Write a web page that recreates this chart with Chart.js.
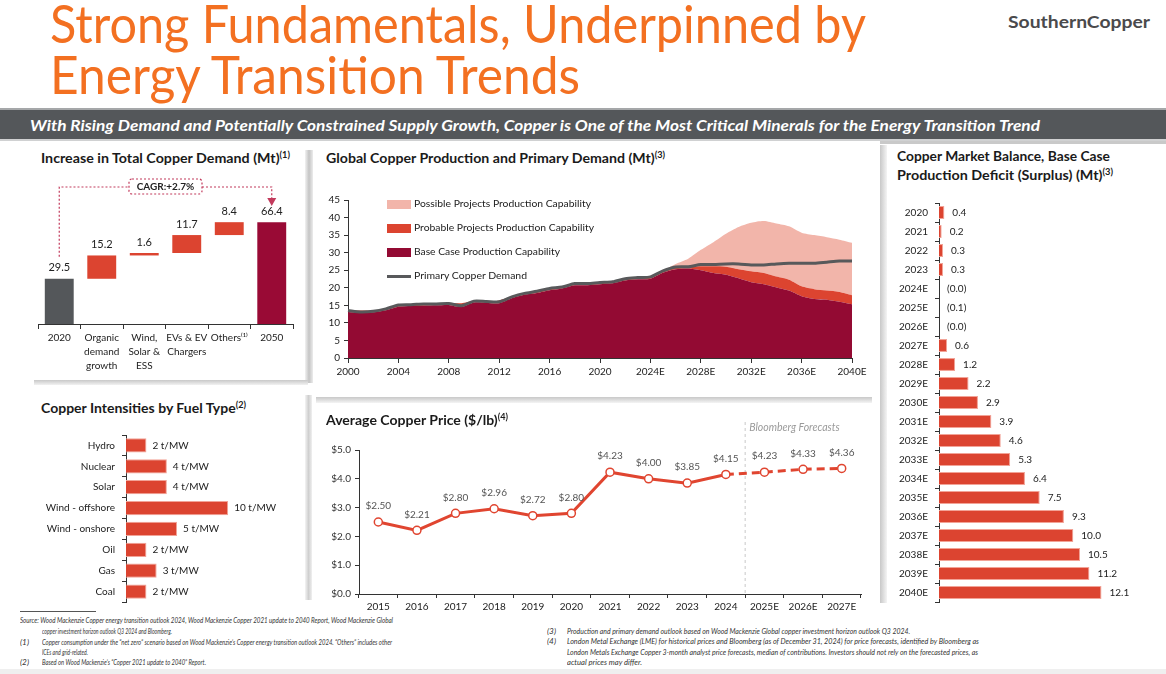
<!DOCTYPE html>
<html><head><meta charset="utf-8">
<script src="https://cdn.jsdelivr.net/npm/chart.js@4.4.1/dist/chart.umd.min.js"></script>
<style>
html,body{margin:0;padding:0;background:#fff;}
body{width:1166px;height:674px;position:relative;overflow:hidden;font-family:Lato,'Liberation Sans',sans-serif;}
.t{position:absolute;white-space:nowrap;transform-origin:0 50%;}
canvas{position:absolute;}
.sh{position:absolute;}
sup{font-size:65%;vertical-align:0.55em;line-height:0;}
</style></head><body>
<div class="sh" style="left:0;top:108px;width:1166px;height:2px;background:#A5A7A9"></div>
<div class="sh" style="left:0;top:110px;width:1166px;height:29px;background:#54575A"></div>
<div class="sh" style="left:0;top:139px;width:1166px;height:2px;background:#D0D1D2"></div>
<!-- panel shadows -->
<div class="sh" style="left:305px;top:150px;width:8px;height:233px;background:linear-gradient(to right,#f2f2f2,#c4c4c4 50%,#ececec)"></div>
<div class="sh" style="left:34px;top:380px;width:274px;height:5px;background:linear-gradient(to bottom,#c8c8c8,#f2f2f2)"></div>
<div class="sh" style="left:305px;top:395px;width:7px;height:205px;background:linear-gradient(to right,#f4f4f4,#cfcfcf 50%,#f0f0f0)"></div>
<div class="sh" style="left:316px;top:397px;width:556px;height:6px;background:linear-gradient(to bottom,#c8c8c8,#f4f4f4)"></div>
<div class="sh" style="left:880px;top:141px;width:286px;height:3px;background:#c9c9c9"></div>
<div class="sh" style="left:880px;top:145px;width:7px;height:458px;background:linear-gradient(to right,#c8c8c8,#f4f4f4)"></div>
<div class="sh" style="left:20px;top:611px;width:76px;height:1px;background:#555"></div>
<div class="sh" style="left:0;top:669px;width:1166px;height:5px;background:#EFEFEF"></div>

<canvas id="c1" width="275" height="210" style="left:30px;top:170px"></canvas>
<canvas id="c2" width="560" height="190" style="left:312px;top:190px"></canvas>
<canvas id="c3" width="280" height="178" style="left:30px;top:430px"></canvas>
<canvas id="c4" width="560" height="197" style="left:312px;top:418px"></canvas>
<canvas id="c5" width="286" height="415" style="left:880px;top:195px"></canvas>

<script>
// ---------------- DATA ----------------
const demandCategories = ['2020', ['Organic','demand','growth'], ['Wind,','Solar &','ESS'], ['EVs & EV','Chargers'], 'Others⁽¹⁾', '2050'];
const demandValues = [29.5, 15.2, 1.6, 11.7, 8.4, 66.4];

const productionYears = ['2000','2001','2002','2003','2004','2005','2006','2007','2008','2009',
  '2010','2011','2012','2013','2014','2015','2016','2017','2018','2019',
  '2020','2021','2022','2023','2024E','2025E','2026E','2027E','2028E','2029E',
  '2030E','2031E','2032E','2033E','2034E','2035E','2036E','2037E','2038E','2039E','2040E'];
const baseCaseCapability = [13.1,12.8,13.0,13.6,14.6,14.8,14.9,15.0,15.1,14.5,
  15.8,15.7,15.6,17.0,18.0,18.5,19.3,19.8,20.7,20.7,
  21.0,21.3,22.1,22.4,22.6,24.3,25.3,25.5,25.0,24.2,
  23.7,22.7,21.6,21.0,20.1,19.2,17.6,16.8,16.6,16.0,15.3];
const withProbableCapability = [13.5,13.5,13.5,13.9,15.0,15.1,15.3,15.3,15.6,15.6,
  16.2,16.1,16.4,17.5,18.4,18.9,19.9,20.2,21.1,21.1,
  21.4,21.6,22.5,22.8,22.9,24.7,25.8,26.0,26.1,26.1,
  26.0,25.3,24.7,24.2,23.2,22.3,20.4,19.6,19.2,18.8,17.9];
const withPossibleCapability = [13.5,13.5,13.5,13.9,15.0,15.1,15.3,15.3,15.6,15.6,
  16.2,16.1,16.4,17.5,18.4,18.9,19.9,20.2,21.1,21.1,
  21.4,21.6,22.5,22.8,23.0,24.9,26.8,28.3,30.8,33.0,
  35.4,37.3,38.5,39.0,38.3,37.5,35.7,35.0,34.4,33.7,32.8];
const primaryDemand = [13.5,13.1,13.3,14.0,15.1,15.2,15.4,15.4,15.5,14.9,
  16.2,16.1,16.0,17.4,18.4,19.0,19.8,20.2,21.2,21.2,
  21.5,21.7,22.6,22.9,23.1,24.8,25.9,26.0,26.6,26.6,
  26.8,26.8,26.5,26.5,26.8,27.0,27.0,27.0,27.3,27.6,27.6];

const fuelTypes = ['Hydro','Nuclear','Solar','Wind - offshore','Wind - onshore','Oil','Gas','Coal'];
const intensityValues = [2, 4, 4, 10, 5, 2, 3, 2];

const priceYears = ['2015','2016','2017','2018','2019','2020','2021','2022','2023','2024','2025E','2026E','2027E'];
const priceValues = [2.50, 2.21, 2.80, 2.96, 2.72, 2.80, 4.23, 4.00, 3.85, 4.15, 4.23, 4.33, 4.36];
const priceYTicks = [0, 1, 2, 3, 4, 5];

const balanceYears = ['2020','2021','2022','2023','2024E','2025E','2026E','2027E','2028E','2029E','2030E',
  '2031E','2032E','2033E','2034E','2035E','2036E','2037E','2038E','2039E','2040E'];
const balanceValues = [0.4, 0.2, 0.3, 0.3, -0.0, -0.1, -0.0, 0.6, 1.2, 2.2, 2.9, 3.9, 4.6, 5.3, 6.4, 7.5, 9.3, 10.0, 10.5, 11.2, 12.1];

// ---------------- TEXT ----------------
function addText(html, x, yc, size, w, style){
  const d = document.createElement('div');
  d.className = 't'; d.innerHTML = html;
  const lh = size*1.25;
  d.style.left = x+'px'; d.style.fontSize = size+'px'; d.style.lineHeight = lh+'px';
  d.style.top = (yc - lh/2)+'px';
  Object.assign(d.style, style||{});
  document.body.appendChild(d);
  if (w){ const a = d.getBoundingClientRect().width; d.style.transform = 'scaleX('+(w/a)+')'; }
  return d;
}
const ORANGE = '#F37021';
addText('Strong Fundamentals, Underpinned by', 50, 23, 52, 816, {color:ORANGE});
addText('Energy Transition Trends', 50, 74, 52, 530, {color:ORANGE});
addText('SouthernCopper', 1008, 22, 17, 142, {color:'#4A4A4C', fontWeight:'700'});
addText('With Rising Demand and Potentially Constrained Supply Growth, Copper is One of the Most Critical Minerals for the Energy Transition Trend', 30, 125, 15, 1010, {color:'#fff', fontWeight:'700', fontStyle:'italic'});

const TB = {color:'#1a1a1a', fontWeight:'700'};
addText('Increase in Total Copper Demand (Mt)<sup>(1)</sup>', 41, 158, 13, 249, TB);
addText('Global Copper Production and Primary Demand (Mt)<sup>(3)</sup>', 326, 158, 13, 339, TB);
addText('Copper Intensities by Fuel Type<sup>(2)</sup>', 41, 408, 13, 205, TB);
addText('Average Copper Price ($/lb)<sup>(4)</sup>', 326, 420, 13, 182, TB);
addText('Copper Market Balance, Base Case', 897, 156, 13, 213, TB);
addText('Production Deficit (Surplus) (Mt)<sup>(3)</sup>', 897, 175, 13, 216, TB);

// production legend
const legendItems = [
  ['Possible Projects Production Capability', '#F2B5AA', 177, 'rect'],
  ['Probable Projects Production Capability', '#DC4430', 180, 'rect'],
  ['Base Case Production Capability', '#930A33', 146, 'rect'],
  ['Primary Copper Demand', '#58595B', 113, 'line']
];
legendItems.forEach((it, i) => {
  const y = 204 + i*24;
  const s = document.createElement('div'); s.className = 'sh';
  const h = it[3]==='line' ? 3 : 9;
  s.style.cssText = `left:387px;top:${y-h/2}px;width:24px;height:${h}px;background:${it[1]}`;
  document.body.appendChild(s);
  addText(it[0], 414, y, 9, it[2], {color:'#222'});
});

// footnotes
const FN = {color:'#333', fontStyle:'italic'};
const FS = 8.2;
addText('Source: Wood Mackenzie Copper energy transition outlook 2024, Wood Mackenzie Copper 2021 update to 2040 Report, Wood Mackenzie Global', 20, 620, FS, 373, FN);
addText('copper investment horizon outlook Q3 2024 and Bloomberg.', 42, 631, FS, 130, FN);
addText('(1)', 20, 642, FS, 9, FN);
addText('Copper consumption under the “net zero” scenario based on Wood Mackenzie’s Copper energy transition outlook 2024. “Others” includes other', 42, 642, FS, 350, FN);
addText('ICEs and grid-related.', 42, 652, FS, 46, FN);
addText('(2)', 20, 662, FS, 9, FN);
addText('Based on Wood Mackenzie’s “Copper 2021 update to 2040” Report.', 42, 662, FS, 164, FN);
addText('(3)', 547, 631, FS, 9, FN);
addText('Production and primary demand outlook based on Wood Mackenzie Global copper investment horizon outlook Q3 2024.', 567, 631, FS, 343, FN);
addText('(4)', 547, 641, FS, 9, FN);
addText('London Metal Exchange (LME) for historical prices and Bloomberg (as of December 31, 2024) for price forecasts, identified by Bloomberg as', 567, 641, FS, 412, FN);
addText('London Metals Exchange Copper 3-month analyst price forecasts, median of contributions. Investors should not rely on the forecasted prices, as', 567, 652, FS, 411, FN);
addText('actual prices may differ.', 567, 662, FS, 75, FN);

// ---------------- CHARTS ----------------
Chart.defaults.font.family = "Lato, 'Liberation Sans', sans-serif";
Chart.defaults.color = '#222';
Chart.defaults.animation = false;
const FONT = "Lato, 'Liberation Sans', sans-serif";
const RED = '#DC4430';
const AX = '#333';
const noPlug = {legend:{display:false}, tooltip:{enabled:false}};
const fixV = w => s => { s.width = w; s.paddingTop = 0; s.paddingBottom = 0; };

// Chart 1 : waterfall
let running = 0;
const floating = demandValues.map((v, i) => {
  if (i === 0) { running = v; return [0, v]; }
  if (i === demandValues.length - 1) return [0, v];
  const r = [running, running + v]; running += v; return r;
});
const waterfallLabels = {
  id: 'wfl',
  afterDatasetsDraw(chart){
    const ctx = chart.ctx, meta = chart.getDatasetMeta(0), ys = chart.scales.y, xs = chart.scales.x;
    ctx.save();
    ctx.font = '11px ' + FONT; ctx.fillStyle = '#222'; ctx.textAlign = 'center'; ctx.textBaseline = 'middle';
    meta.data.forEach((el, i) => {
      const top = ys.getPixelForValue(floating[i][1]);
      ctx.fillText(demandValues[i].toFixed(1), el.x, top - 11);
    });
    // CAGR annotation
    const col = '#C23A5C';
    const x0 = xs.getPixelForValue(0), x5 = xs.getPixelForValue(5);
    const yl = chart.chartArea.top + 1;
    const y0 = ys.getPixelForValue(floating[0][1]) - 22;
    const bx0 = (xs.getPixelForValue(2) + xs.getPixelForValue(3))/2 - 36.5, bx1 = bx0 + 73;
    ctx.strokeStyle = col; ctx.lineWidth = 1.2; ctx.setLineDash([2, 2]);
    ctx.beginPath();
    ctx.moveTo(x0, y0); ctx.lineTo(x0, yl); ctx.lineTo(bx0, yl);
    ctx.moveTo(bx1, yl); ctx.lineTo(x5, yl); ctx.lineTo(x5, yl + 11);
    ctx.stroke();
    ctx.beginPath();
    ctx.roundRect(bx0, yl - 8, 73, 15, 3); ctx.stroke();
    ctx.setLineDash([]);
    ctx.fillStyle = col;
    ctx.beginPath(); ctx.moveTo(x5 - 4.5, yl + 11); ctx.lineTo(x5 + 4.5, yl + 11); ctx.lineTo(x5, yl + 19); ctx.closePath(); ctx.fill();
    ctx.fillStyle = '#222'; ctx.font = 'bold 10px ' + FONT;
    ctx.fillText('CAGR:+2.7%', (bx0 + bx1)/2, yl);
    ctx.restore();
  }
};
new Chart(document.getElementById('c1'), {
  type: 'bar',
  data: { labels: demandCategories, datasets: [{ data: floating,
    backgroundColor: ['#54575A', RED, RED, RED, RED, '#990A35'],
    barPercentage: 0.68, categoryPercentage: 1 }] },
  options: {
    responsive: false, animation: false,
    layout: { padding: { left: 8, right: 12, top: 16, bottom: 0 } },
    plugins: noPlug,
    scales: {
      x: { grid: { offset: true, drawOnChartArea: false, tickLength: 5, color: AX }, border: { color: AX },
           ticks: { font: { size: 10, lineHeight: 1.4 }, color: '#222', padding: 2, maxRotation: 0, autoSkip: false },
           afterFit: s => { s.height = 56; s.paddingLeft = 0; s.paddingRight = 0; } },
      y: { display: false, min: 0, max: 90 }
    }
  },
  plugins: [waterfallLabels]
});

// Chart 2 : production areas
new Chart(document.getElementById('c2'), {
  type: 'line',
  data: { labels: productionYears, datasets: [
    { data: baseCaseCapability, fill: 'origin', backgroundColor: '#930A33', borderWidth: 0, pointRadius: 0, tension: 0.25, order: 2 },
    { data: withProbableCapability, fill: '-1', backgroundColor: '#DC4430', borderWidth: 0, pointRadius: 0, tension: 0.25, order: 2 },
    { data: withPossibleCapability, fill: '-1', backgroundColor: '#F2B5AA', borderWidth: 0, pointRadius: 0, tension: 0.25, order: 2 },
    { data: primaryDemand, fill: false, borderColor: '#58595B', borderWidth: 3, pointRadius: 0, tension: 0.25, order: 0 }
  ]},
  options: {
    responsive: false, animation: false,
    layout: { padding: { left: 0, right: 20, top: 10, bottom: 0 } },
    plugins: noPlug,
    scales: {
      x: { offset: false, grid: { drawOnChartArea: false, tickLength: 5, tickColor: c => (c.index % 4 === 0 ? AX : 'rgba(0,0,0,0)') }, border: { color: AX },
           ticks: { autoSkip: false, maxRotation: 0, font: { size: 10 }, padding: 3,
                    callback: (v, i) => (i % 4 === 0 ? productionYears[i] : '') },
           afterFit: s => { s.height = 22; s.paddingLeft = 0; s.paddingRight = 0; } },
      y: { min: 0, max: 45, ticks: { stepSize: 5, font: { size: 10 }, padding: 4 },
           grid: { drawOnChartArea: false, tickLength: 4, tickColor: AX }, border: { color: AX },
           afterFit: fixV(36) }
    }
  }
});

// Chart 3 : intensities
const intensityLabels = {
  id: 'intl',
  afterDatasetsDraw(chart){
    const ctx = chart.ctx, meta = chart.getDatasetMeta(0);
    ctx.save(); ctx.font = '10px ' + FONT; ctx.fillStyle = '#222'; ctx.textBaseline = 'middle';
    meta.data.forEach((el, i) => ctx.fillText(intensityValues[i] + ' t/MW', el.x + 6, el.y));
    ctx.restore();
  }
};
new Chart(document.getElementById('c3'), {
  type: 'bar',
  data: { labels: fuelTypes, datasets: [{ data: intensityValues, backgroundColor: RED, borderColor: '#F2A397', borderWidth: 1,
    barPercentage: 0.68, categoryPercentage: 1 }] },
  options: {
    indexAxis: 'y', responsive: false, animation: false,
    layout: { padding: { left: 0, right: 41, top: 5, bottom: 6 } },
    plugins: noPlug,
    scales: {
      x: { display: false, min: 0, max: 14 },
      y: { grid: { offset: true, drawOnChartArea: false, tickLength: 4, tickColor: AX }, border: { color: AX },
           ticks: { font: { size: 10 }, color: '#222', padding: 7 },
           afterFit: fixV(96) }
    }
  },
  plugins: [intensityLabels]
});

// Chart 4 : price
const priceLabels = {
  id: 'prl',
  beforeDatasetsDraw(chart){
    const ctx = chart.ctx, xs = chart.scales.x;
    const xd = (xs.getPixelForValue(9) + xs.getPixelForValue(10)) / 2;
    ctx.save();
    ctx.strokeStyle = '#C8C8C8'; ctx.lineWidth = 1; ctx.setLineDash([3, 3]);
    ctx.beginPath(); ctx.moveTo(xd, 4); ctx.lineTo(xd, chart.chartArea.bottom); ctx.stroke();
    ctx.setLineDash([]);
    ctx.font = 'italic 10.5px ' + FONT; ctx.fillStyle = '#9A9A9A'; ctx.textBaseline = 'middle';
    ctx.fillText('Bloomberg Forecasts', xd + 4, 10);
    ctx.restore();
  },
  afterDatasetsDraw(chart){
    const ctx = chart.ctx, meta = chart.getDatasetMeta(0);
    ctx.save(); ctx.font = '10px ' + FONT; ctx.fillStyle = '#555'; ctx.textAlign = 'center'; ctx.textBaseline = 'middle';
    meta.data.forEach((el, i) => ctx.fillText('$' + priceValues[i].toFixed(2), el.x, el.y - 16));
    ctx.restore();
  }
};
new Chart(document.getElementById('c4'), {
  type: 'line',
  data: { labels: priceYears, datasets: [{ data: priceValues, borderColor: '#E04530', borderWidth: 3,
    pointRadius: 4, pointBackgroundColor: '#fff', pointBorderColor: '#E04530', pointBorderWidth: 1.5, tension: 0,
    segment: { borderDash: c => (c.p0DataIndex >= 9 ? [8, 5] : undefined) } }] },
  options: {
    responsive: false, animation: false,
    layout: { padding: { left: 0, right: 11, top: 32, bottom: 0 } },
    plugins: noPlug,
    scales: {
      x: { offset: true, grid: { offset: true, drawOnChartArea: false, tickLength: 4, tickColor: AX }, border: { color: AX },
           ticks: { font: { size: 10 }, color: '#222', padding: 3, maxRotation: 0, autoSkip: false },
           afterFit: s => { s.height = 21; s.paddingLeft = 0; s.paddingRight = 0; } },
      y: { min: priceYTicks[0], max: priceYTicks[priceYTicks.length - 1],
           afterBuildTicks: s => { s.ticks = priceYTicks.map(v => ({ value: v })); },
           ticks: { font: { size: 10 }, color: '#333', padding: 4, callback: v => '$' + Number(v).toFixed(1) },
           grid: { drawOnChartArea: false, tickLength: 4, tickColor: AX }, border: { color: AX },
           afterFit: fixV(47) }
    }
  },
  plugins: [priceLabels]
});

// Chart 5 : market balance
const fmtBal = v => ((v < 0 || Object.is(v, -0)) ? '(' + Math.abs(v).toFixed(1) + ')' : v.toFixed(1));
const balanceLabels = {
  id: 'bal',
  afterDatasetsDraw(chart){
    const ctx = chart.ctx, meta = chart.getDatasetMeta(0), xs = chart.scales.x;
    ctx.save(); ctx.font = '10px ' + FONT; ctx.fillStyle = '#222'; ctx.textBaseline = 'middle';
    meta.data.forEach((el, i) => {
      const end = xs.getPixelForValue(Math.max(balanceValues[i], 0));
      ctx.fillText(fmtBal(balanceValues[i]), end + 8, el.y);
    });
    ctx.restore();
  }
};
new Chart(document.getElementById('c5'), {
  type: 'bar',
  data: { labels: balanceYears, datasets: [{ data: balanceValues, backgroundColor: RED, borderColor: '#F2A397', borderWidth: 1,
    barPercentage: 0.68, categoryPercentage: 1 }] },
  options: {
    indexAxis: 'y', responsive: false, animation: false,
    layout: { padding: { left: 0, right: 39, top: 8, bottom: 8 } },
    plugins: noPlug,
    scales: {
      x: { display: false, min: 0, max: 14 },
      y: { grid: { offset: true, drawOnChartArea: false, tickLength: 4, tickColor: AX }, border: { color: AX },
           ticks: { font: { size: 10 }, color: '#222', padding: 7, autoSkip: false },
           afterFit: fixV(59) }
    }
  },
  plugins: [balanceLabels]
});
</script>
</body></html>
